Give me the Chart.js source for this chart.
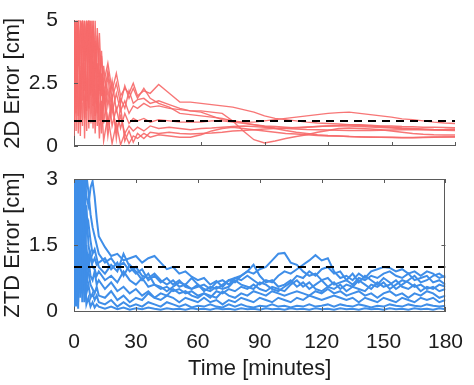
<!DOCTYPE html>
<html>
<head>
<meta charset="utf-8">
<script src="https://cdn.jsdelivr.net/npm/chart.js@4.4.1/dist/chart.umd.min.js"></script>
<style>
  body { margin: 0; background: #fff; }
  #wrap { position: relative; width: 474px; height: 385px; }
  canvas { position: absolute; left: 0; top: 0; }
</style>
</head>
<body>
<div id="wrap">
  <canvas id="top2d" width="474" height="385"></canvas>
  <canvas id="bottomZtd" width="474" height="385"></canvas>
</div>
<script>
// time grids (minutes)
const minutesRed = [0,1,2,3,4,5,6,7,8,9,10,11,12,13,14,16,18,20,22,24,26,28,30,33,36,40,
  45,50,55,60,65,70,75,80,85,90,95,100,105,110,115,120,125,130,135,140,145,150,155,160,165,170,175,180];
const minutesBlue = [0,1,2,3,4,5,6,7,8,9,10,11,12,
  15,18,21,24,27,30,33,36,39,42,45,48,51,54,57,60,63,66,69,72,75,78,81,84,87,90,93,96,99,102,
  105,108,111,114,117,120,123,126,129,132,135,138,141,144,147,150,153,156,159,162,165,168,171,174,177,180];

// 2D error runs [cm]
const red1 = [0.4,5,3.2,5,1.8,5,4.0,5,2.6,4.8,3.1,4.4,2.2, 3.6,2.5, 3.3,2.2,2.9,2.0,2.3,2.1,2.5,2.0, 2.2,2.1,2.45,
  2.1,1.75,1.75,1.7,1.65,1.6,1.55,1.45,1.35,1.2, 1.1,1.05,1.0,0.95,0.92,0.9,0.88,0.85,0.83,0.8, 0.78,0.75,0.72,0.7,0.68,0.66,0.65,0.65];
const red2 = [5,2.1,5,0.9,5,3.4,5,1.5,5,2.4,4.2,1.8,3.9, 2.0,3.2, 1.6,2.6,1.4,1.9,1.5,2.2,1.7,1.85, 1.9,1.7,1.8,
  1.65,1.5,1.4,1.35,1.2,1.05,1.0,0.95,0.95,1.0, 1.05,1.1,1.15,1.2,1.25,1.3,1.33,1.35,1.3,1.25, 1.2,1.15,1.08,1.05,1.0,0.95,0.92,0.9];
const red3 = [3.0,5,1.2,4.6,5,2.2,5,3.7,5,1.9,3.5,2.7,4.5, 2.4,1.5, 2.8,1.3,2.1,1.4,1.8,1.3,1.6,1.5, 1.7,1.55,1.6,
  1.5,1.45,1.4,1.4,1.35,1.3,1.0,0.6,0.25,0.12, 0.2,0.3,0.38,0.45,0.55,0.62,0.7,0.72,0.7,0.68, 0.65,0.6,0.55,0.5,0.47,0.45,0.44,0.44];
const red4 = [1.5,4.0,5,2.8,0.8,5,1.4,4.3,2.0,5,1.2,3.3,1.0, 2.9,0.9, 2.3,0.8,1.5,0.7,1.3,0.9,1.1,1.0, 1.1,0.95,1.05,
  1.0,0.95,0.95,0.95,1.0,1.0,0.95,0.9,0.85,0.8, 0.78,0.75,0.72,0.75,0.78,0.8,0.82,0.85,0.85,0.83, 0.8,0.8,0.78,0.77,0.75,0.75,0.74,0.73];
const red5 = [4.8,0.6,5,5,3.0,1.1,5,0.7,4.4,1.6,5,0.8,2.8, 0.5,2.2, 0.4,1.7,0.6,1.2,0.5,0.8,0.6,0.75, 0.6,0.8,0.7,
  0.75,0.7,0.65,0.7,0.72,0.75,0.78,0.8,0.78,0.75, 0.72,0.7,0.68,0.66,0.65,0.64,0.63,0.62,0.62,0.62, 0.63,0.64,0.65,0.65,0.65,0.64,0.63,0.62];
const red6 = [2.2,5,0.5,3.8,5,0.3,4.7,5,0.9,3.4,0.5,2.5,0.3, 1.8,0.2, 1.2,0.1,0.9,0.05,0.5,0.1,0.4,0.3, 0.5,0.35,0.45,
  0.4,0.35,0.35,0.45,0.6,0.7,0.75,0.7,0.65,0.6, 0.55,0.5,0.48,0.45,0.42,0.4,0.4,0.38,0.36,0.35, 0.35,0.34,0.33,0.33,0.34,0.35,0.36,0.36];
const red7 = [0.9,3.0,5,1.7,4.9,2.6,0.6,5,3.3,0.7,4.0,1.3,3.0, 1.1,2.6, 0.8,2.0,0.3,1.6,0.2,0.6,0.15,0.5, 0.3,0.55,0.5,
  0.55,0.5,0.48,0.5,0.52,0.55,0.6,0.62,0.65,0.68, 0.7,0.72,0.74,0.76,0.78,0.8,0.8,0.8,0.78,0.76, 0.74,0.72,0.7,0.68,0.66,0.65,0.66,0.68];
const red8 = [5,1.3,4.4,0.4,5,4.1,1.8,5,2.1,5,1.7,4.7,2.5, 3.8,1.9, 3.0,1.9,2.5,1.7,2.4,1.9,2.3,1.9, 2.3,1.9,1.7,
  1.55,1.3,1.25,1.2,1.15,1.1,1.0,0.92,0.85,0.78, 0.7,0.62,0.55,0.5,0.45,0.42,0.4,0.38,0.37,0.36, 0.35,0.35,0.34,0.34,0.35,0.36,0.36,0.37];
const redRuns = [red1, red2, red3, red4, red5, red6, red7, red8];

// ZTD error runs [cm]
const blue1 = [0.3,3.2,1.2,3.2,2.0,3.2,2.6,2.4,2.8,2.95,2.6,2.1,1.7,
  1.45,1.25,1.3,1.15,1.2,1.25,1.1,1.2,1.25,1.1, 0.95,1.0,0.85,0.9,0.78,0.7,0.75,0.6,0.68,0.55,
  0.7,0.75,0.8,0.9,0.85,0.95,1.0,1.15,1.3,1.32, 1.1,1.05,0.9,0.8,0.85,0.7,0.75,0.6,0.65,0.7,
  0.6,0.75,0.7,0.8,0.75,0.85,0.9,0.8,0.75,0.85, 0.7,0.75,0.8,0.65,0.7,0.6];
const blue2 = [3.2,0.5,3.2,0.8,3.2,2.2,3.1,2.7,2.2,1.9,1.7,1.5,1.3,
  1.1,1.2,1.0,1.1,0.9,1.0,0.8,0.75,0.85,0.7, 0.6,0.7,0.55,0.6,0.5,0.55,0.6,0.5,0.65,0.7,
  0.6,0.75,0.7,0.8,0.7,0.6,0.7,0.65,0.8,0.9, 0.85,0.95,1.05,1.15,1.27,1.15,1.2,0.9,0.75,0.8,
  0.7,0.85,0.75,0.9,0.95,1.0,0.98,0.9,0.95,0.85, 0.9,0.8,0.9,0.85,0.75,0.8];
const blue3 = [1.5,3.2,0.2,3.2,1.0,3.2,1.8,2.0,1.6,1.3,1.4,1.2,1.0,
  0.85,1.05,0.9,1.3,1.0,0.85,0.95,0.7,0.8,0.65, 0.75,0.6,0.7,0.55,0.5,0.6,0.45,0.55,0.5,0.6,
  0.7,0.65,0.8,0.9,1.05,0.8,0.65,0.7,0.55,0.6, 0.7,0.55,0.65,0.5,0.6,0.7,0.55,0.65,0.5,0.6,
  0.55,0.7,0.6,0.5,0.65,0.55,0.6,0.7,0.55,0.5, 0.6,0.45,0.55,0.5,0.6,0.55];
const blue4 = [3.2,1.0,2.5,0.3,3.2,0.6,2.4,1.5,1.2,1.0,0.95,0.8,0.9,
  0.7,0.8,0.65,0.9,0.7,0.6,0.75,0.55,0.6,0.5, 0.55,0.45,0.5,0.4,0.45,0.35,0.4,0.3,0.45,0.4,
  0.5,0.45,0.55,0.5,0.6,0.5,0.45,0.55,0.5,0.45, 0.6,0.7,0.55,0.65,0.5,0.45,0.55,0.5,0.6,0.45,
  0.55,0.5,0.45,0.6,0.55,0.65,0.5,0.6,0.7,0.65, 0.55,0.6,0.5,0.55,0.45,0.5];
const blue5 = [0.8,3.2,1.6,3.2,0.4,2.8,0.9,1.2,0.8,0.7,0.9,0.6,0.7,
  0.5,0.65,0.45,0.55,0.4,0.5,0.35,0.45,0.3,0.4, 0.35,0.5,0.4,0.45,0.35,0.3,0.4,0.35,0.3,0.45,
  0.35,0.3,0.4,0.35,0.45,0.4,0.35,0.45,0.4,0.35, 0.4,0.45,0.4,0.35,0.45,0.4,0.5,0.4,0.45,0.35,
  0.4,0.45,0.35,0.4,0.3,0.4,0.45,0.35,0.4,0.3, 0.4,0.35,0.45,0.4,0.3,0.35];
const blue6 = [2.0,0.1,3.2,1.4,3.2,0.2,1.5,0.9,0.6,0.5,0.4,0.55,0.35,
  0.3,0.45,0.25,0.35,0.2,0.3,0.25,0.4,0.3,0.25, 0.35,0.3,0.2,0.3,0.25,0.2,0.3,0.2,0.25,0.15,
  0.25,0.2,0.3,0.25,0.2,0.3,0.25,0.2,0.3,0.25, 0.2,0.3,0.25,0.35,0.3,0.25,0.3,0.35,0.3,0.25,
  0.3,0.2,0.3,0.25,0.2,0.3,0.25,0.2,0.3,0.25, 0.2,0.3,0.25,0.3,0.2,0.25];
const blue7 = [3.2,2.2,0.6,3.2,1.6,3.2,0.4,0.6,0.3,0.4,0.25,0.35,0.2,
  0.15,0.25,0.1,0.2,0.1,0.15,0.1,0.2,0.15,0.1, 0.2,0.15,0.1,0.15,0.08,0.12,0.1,0.15,0.1,0.08,
  0.15,0.1,0.15,0.1,0.08,0.12,0.1,0.15,0.1,0.12, 0.08,0.12,0.1,0.15,0.1,0.12,0.15,0.1,0.15,0.12,
  0.1,0.15,0.12,0.08,0.12,0.1,0.15,0.12,0.1,0.15, 0.12,0.1,0.15,0.12,0.1,0.12];
const blue8 = [1.0,3.0,0.7,2.6,3.2,1.3,0.5,1.0,1.3,1.1,1.2,1.05,1.1,
  1.2,0.95,1.1,0.8,1.05,0.9,0.7,0.85,0.6,0.55, 0.45,0.55,0.65,0.6,0.75,0.6,0.5,0.45,0.55,0.5,
  0.55,0.7,0.6,0.55,0.5,0.65,0.6,0.5,0.45,0.55, 0.65,0.8,0.75,0.9,0.8,0.95,1.0,0.85,0.9,0.7,
  0.85,0.65,0.8,0.7,0.6,0.75,0.65,0.5,0.6,0.7, 0.8,0.65,0.7,0.8,0.85,0.75];
const blue9 = [0.1,1.8,0.05,2.5,0.2,1.0,0.15,0.3,0.1,0.2,0.08,0.15,0.1,
  0.05,0.1,0.04,0.08,0.03,0.06,0.04,0.08,0.05,0.03, 0.06,0.04,0.05,0.03,0.06,0.04,0.05,0.03,0.06,0.04,
  0.05,0.03,0.06,0.04,0.05,0.03,0.06,0.04,0.05,0.03, 0.06,0.04,0.05,0.03,0.06,0.04,0.05,0.03,0.06,0.04,
  0.05,0.03,0.06,0.04,0.05,0.03,0.06,0.04,0.05,0.03, 0.06,0.04,0.05,0.03,0.06,0.04];
const blueRuns = [blue1, blue2, blue3, blue4, blue5, blue6, blue7, blue8, blue9];

// 1 cm requirement line
const thresholdMinutes = [0, 180];
const thresholdCm = [1, 1];

const xTicks = [0, 30, 60, 90, 120, 150, 180];

const axisColor = "#5a5a5a";
const textColor = "#1c1c1c";
const fontFamily = "'Liberation Sans', Arial, Helvetica, sans-serif";

// matlab style ticks pointing into the plot, plus the closed box for the lower panel
const innerTicks = {
  id: "innerTicks",
  afterDraw(chart, args, opts) {
    const { ctx, chartArea: a, scales } = chart;
    ctx.save();
    ctx.strokeStyle = axisColor;
    ctx.lineWidth = 1;
    ctx.beginPath();
    scales.x.ticks.forEach((t) => {
      const px = Math.round(scales.x.getPixelForValue(t.value)) + 0.5;
      ctx.moveTo(px, a.bottom);
      ctx.lineTo(px, a.bottom - 4);
      if (opts.box) {
        ctx.moveTo(px, a.top);
        ctx.lineTo(px, a.top + 4);
      }
    });
    scales.y.ticks.forEach((t) => {
      const py = Math.round(scales.y.getPixelForValue(t.value)) + 0.5;
      ctx.moveTo(a.left, py);
      ctx.lineTo(a.left + 4, py);
      if (opts.box) {
        ctx.moveTo(a.right, py);
        ctx.lineTo(a.right - 4, py);
      }
    });
    if (opts.box) {
      ctx.moveTo(a.left, Math.round(a.top) + 0.5);
      ctx.lineTo(a.right, Math.round(a.top) + 0.5);
      ctx.moveTo(Math.round(a.right) - 0.5, a.top);
      ctx.lineTo(Math.round(a.right) - 0.5, a.bottom);
    }
    ctx.stroke();
    ctx.restore();
  },
};

const toPoints = (xs, ys) => xs.map((x, i) => ({ x: x, y: ys[i] }));

const buildDatasets = (runs, minutes, color, width) => {
  const sets = [
    {
      data: toPoints(thresholdMinutes, thresholdCm),
      borderColor: "#000",
      borderWidth: 2,
      borderDash: [8, 6],
    },
  ];
  runs.forEach((run) => {
    sets.push({ data: toPoints(minutes, run), borderColor: color, borderWidth: width });
  });
  return sets;
};

const makeOptions = (cfg) => ({
  responsive: false,
  animation: false,
  devicePixelRatio: 1,
  layout: { padding: cfg.padding },
  elements: { point: { radius: 0 }, line: { tension: 0 } },
  plugins: {
    legend: { display: false },
    tooltip: { enabled: false },
    innerTicks: { box: cfg.box },
  },
  scales: {
    x: {
      type: "linear",
      min: 0,
      max: 180,
      afterBuildTicks: (s) => { s.ticks = xTicks.map((v) => ({ value: v })); },
      grid: { display: false },
      border: { display: true, color: axisColor, width: 1 },
      ticks: {
        display: cfg.showX,
        color: textColor,
        padding: 11,
        font: { family: fontFamily, size: 21 },
      },
      title: {
        display: cfg.showX,
        text: "Time [minutes]",
        color: textColor,
        padding: { top: 0, bottom: 3 },
        font: { family: fontFamily, size: 22 },
      },
      afterFit: (s) => { s.height = cfg.xHeight; },
    },
    y: {
      min: 0,
      max: cfg.yMax,
      grid: { display: false },
      border: { display: true, color: axisColor, width: 1 },
      ticks: {
        stepSize: cfg.yStep,
        color: textColor,
        padding: 8,
        font: { family: fontFamily, size: 21 },
      },
      title: {
        display: true,
        text: cfg.yTitle,
        color: textColor,
        padding: 0,
        font: { family: fontFamily, size: 22 },
      },
      afterFit: (s) => { s.width = 74; },
    },
  },
});

new Chart(document.getElementById("top2d"), {
  type: "line",
  data: { datasets: buildDatasets(redRuns, minutesRed, "rgba(246, 106, 106, 0.92)", 1.4) },
  options: makeOptions({
    padding: { left: 0, right: 19, top: 8, bottom: 239 },
    box: false,
    showX: false,
    xHeight: 0,
    yMax: 5,
    yStep: 2.5,
    yTitle: "2D Error [cm]",
  }),
  plugins: [innerTicks],
});

new Chart(document.getElementById("bottomZtd"), {
  type: "line",
  data: { datasets: buildDatasets(blueRuns, minutesBlue, "#3f8ee8", 2) },
  options: makeOptions({
    padding: { left: 0, right: 21, top: 179, bottom: 0 },
    box: true,
    showX: true,
    xHeight: 74,
    yMax: 3,
    yStep: 1.5,
    yTitle: "ZTD Error [cm]",
  }),
  plugins: [innerTicks],
});
</script>
</body>
</html>
